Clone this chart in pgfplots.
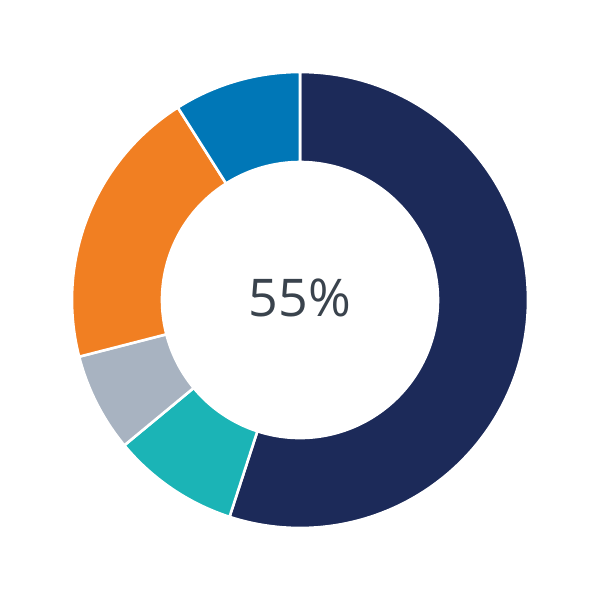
\documentclass[border=0pt]{standalone}
\usepackage{pgfplots}
\usepackage{pgfplotstable}
\pgfplotsset{compat=1.18}
\usepackage{fontspec}
\setmainfont{Open Sans}
\definecolor{cnavy}{HTML}{1C2A59}
\definecolor{cteal}{HTML}{1BB4B6}
\definecolor{cgray}{HTML}{A8B3C1}
\definecolor{corange}{HTML}{F17F22}
\definecolor{cblue}{HTML}{0077B7}
\definecolor{ctext}{HTML}{3A434D}
\pgfplotstableread{
share color
55 cnavy
9 cteal
7 cgray
20 corange
9 cblue
}\donutdata
\begin{document}
\begin{tikzpicture}
\begin{axis}[x=1pt, y=1pt, xmin=-300, xmax=300, ymin=-300, ymax=300,
  hide axis, disabledatascaling, clip=false]
\path (axis cs:-300,-300) rectangle (axis cs:300,300);
\pgfplotstablegetrowsof{\donutdata}
\pgfmathtruncatemacro{\nrows}{\pgfplotsretval-1}
\def\cum{0}
\pgfplotsinvokeforeach{0,...,\nrows}{%
  \pgfplotstablegetelem{#1}{share}\of{\donutdata}\let\val\pgfplotsretval
  \pgfplotstablegetelem{#1}{color}\of{\donutdata}\let\col\pgfplotsretval
  \pgfmathsetmacro{\a}{90-3.6*\cum}
  \pgfmathsetmacro{\b}{90-3.6*(\cum+\val)}
  \pgfmathsetmacro{\ox}{228*cos(\a)}\pgfmathsetmacro{\oy}{228*sin(\a)}
  \pgfmathsetmacro{\ix}{138*cos(\b)}\pgfmathsetmacro{\iy}{138*sin(\b)}
  \edef\temp{\noexpand\filldraw[fill=\col, draw=white, line width=2.6pt, line join=miter]
    (axis cs:\ox,\oy) arc[start angle=\a, end angle=\b, radius=228pt]
    -- (axis cs:\ix,\iy) arc[start angle=\b, end angle=\a, radius=138pt] -- cycle;}
  \temp
  \pgfmathsetmacro{\newcum}{\cum+\val}
  \global\let\cum\newcum
}
\node[text=ctext, font=\fontsize{52}{62}\selectfont] at (axis cs:0,2) {55\%};
\end{axis}
\end{tikzpicture}
\end{document}
